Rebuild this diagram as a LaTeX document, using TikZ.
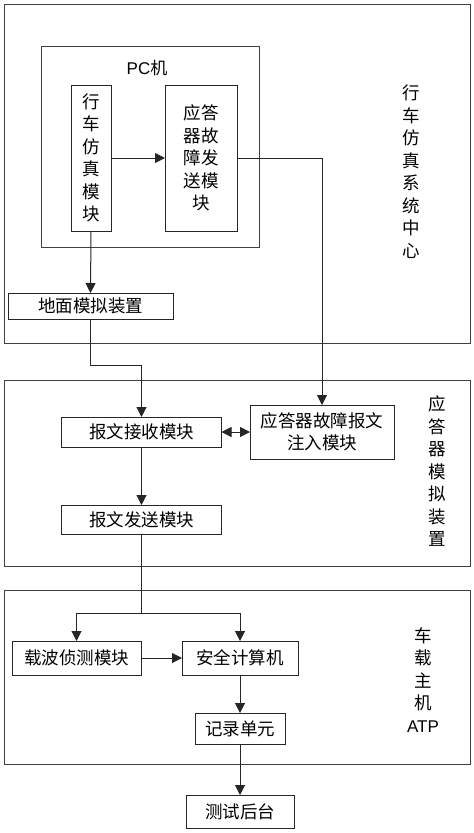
\documentclass[tikz,border=0pt]{standalone}
\usepackage{fontspec}
\setmainfont{Liberation Sans}
\newfontfamily\cjk{Noto Sans CJK SC}
\usetikzlibrary{arrows.meta}
\begin{document}
\begin{tikzpicture}[x=1pt,y=-1pt,
  every node/.style={inner sep=0pt,outer sep=0pt},
  box/.style={draw=black!85,line width=1pt,font=\cjk\fontsize{17.5}{22.5}\selectfont,align=center},
  frame/.style={draw=black!75,line width=1pt},
  vlabel/.style={font=\cjk\fontsize{17.5}{22.5}\selectfont,align=center},
  conn/.style={line width=1pt,draw=black!85},
  arr/.style={conn,-{Triangle[length=10pt,width=10pt]}},
  darr/.style={conn,{Triangle[length=10pt,width=10pt]}-{Triangle[length=10pt,width=10pt]}}]
\useasboundingbox[fill=white] (0,0) rectangle (474,833);
% frames
\node[frame,minimum width=466pt,minimum height=339pt] (center) at (237,173.5) {};
\node[frame,minimum width=218pt,minimum height=201pt] (pc) at (150,146.5) {};
\node[frame,minimum width=466pt,minimum height=186pt] (balise) at (237,473) {};
\node[frame,minimum width=466pt,minimum height=174pt] (atp) at (237,677) {};
% labels
\node[font=\fontsize{17}{20}\selectfont] (pclabel) at (147,68) {PC{\cjk 机}};
\node[vlabel] (lab1) at (411,171.5) {行\\车\\仿\\真\\系\\统\\中\\心};
\node[vlabel] (lab2) at (437,471.5) {应\\答\\器\\模\\拟\\装\\置};
\node[vlabel] (lab3) at (423,680) {车\\载\\主\\机\\{\rmfamily\fontsize{17}{22.5}\selectfont ATP}};
% boxes
\node[box,minimum width=40pt,minimum height=146pt] (sim) at (91,158) {行\\车\\仿\\真\\模\\块};
\node[box,minimum width=72pt,minimum height=146pt] (fault) at (201,158) {应答\\器故\\障发\\送模\\块};
\node[box,minimum width=165pt,minimum height=26pt] (ground) at (90.5,306) {地面模拟装置};
\node[box,minimum width=160pt,minimum height=30pt] (recv) at (141.5,432) {报文接收模块};
\node[box,minimum width=144pt,minimum height=54pt] (inject) at (322,432) {应答器故障报文\\注入模块};
\node[box,minimum width=160pt,minimum height=29pt] (send) at (141.5,519.5) {报文发送模块};
\node[box,minimum width=129pt,minimum height=34pt] (carrier) at (76.5,658) {载波侦测模块};
\node[box,minimum width=116pt,minimum height=34pt] (safe) at (240,658) {安全计算机};
\node[box,minimum width=90pt,minimum height=31pt] (record) at (240,728.5) {记录单元};
\node[box,minimum width=108pt,minimum height=33pt] (test) at (240,811.5) {测试后台};
% connectors
\coordinate (j1) at (141.5,365);
\coordinate (j2) at (141.5,613);
\draw[arr] (sim.east) -- (fault.west);
\draw[arr] (sim.south) -- (ground.north);
\draw[arr] (fault.east) -| (inject.north);
\draw[conn] (ground.south) |- (j1);
\draw[arr] (j1) -- (recv.north);
\draw[darr] (recv.east) -- (inject.west);
\draw[arr] (recv.south) -- (send.north);
\draw[conn] (send.south) -- (j2);
\draw[arr] (j2) -| (carrier.north);
\draw[arr] (j2) -| (safe.north);
\draw[arr] (carrier.east) -- (safe.west);
\draw[arr] (safe.south) -- (record.north);
\draw[arr] (record.south) -- (test.north);
\end{tikzpicture}
\end{document}
